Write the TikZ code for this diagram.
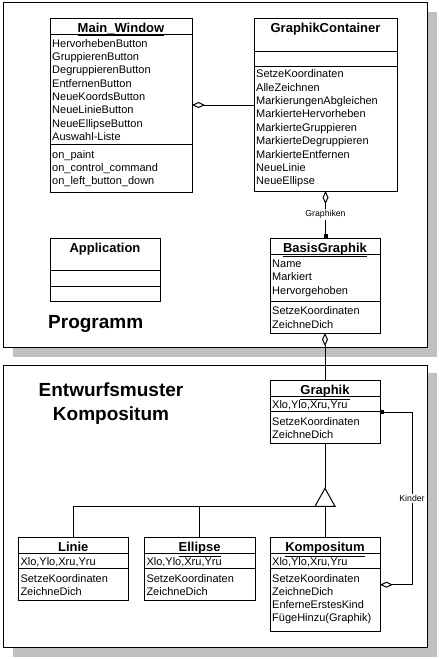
\documentclass[tikz,border=0pt]{standalone}
\usepackage{fontspec}
\setmainfont{Liberation Sans}
\usepackage{xcolor}
\definecolor{schatten}{RGB}{192,192,192}
\usetikzlibrary{arrows,arrows.meta,shapes,calc,positioning}
\tikzstyle{rahmen}=[draw, fill=white, line width=1pt]
\tikzstyle{klasse}=[draw, line width=1pt, anchor=north west,
                    inner sep=0pt, outer sep=0pt]
\tikzstyle{titel}=[anchor=base, inner sep=0pt,
                   font=\fontsize{13}{14}\selectfont\bfseries]
\tikzstyle{zeile}=[anchor=base west, inner sep=0pt,
                   font=\fontsize{11}{13}\selectfont]
\tikzstyle{marke}=[fill=white, inner sep=1pt,
                   font=\fontsize{8.7}{10}\selectfont]
\tikzstyle{gross}=[anchor=base, inner sep=0pt,
                   font=\fontsize{19}{22}\selectfont\bfseries]
\tikzstyle{edge}=[line width=1pt]
\tikzset{raute/.tip={Diamond[open, length=13pt, width=6pt]},
         punkt/.tip={Square[length=4pt, width=4pt]}}

\begin{document}
\begin{tikzpicture}[x=1pt, y=-1pt]

    \useasboundingbox (0,0) rectangle (439,659);

    % Rahmen mit Schatten
    \fill[schatten] (13,12) rectangle (437,357);
    \draw[rahmen] (3,2) rectangle (427,347);
    \fill[schatten] (13,373) rectangle (437,657);
    \draw[rahmen] (3,365) rectangle (427,647);

    \node (prog) [gross, anchor=base west] at (48,328) {Programm};
    \node (entw) [gross] at (111,396) {Entwurfsmuster};
    \node (komp) [gross] at (111,420) {Kompositum};

    % Programm
    \node (mw) [klasse, minimum width=142pt, minimum height=174pt] at (50,18) {};
    \node (mwT) [titel] at ($(mw.north)+(0,14.5)$) {\underline{Main\_Window}};
    \foreach \y in {34,144}
        \draw[edge] (mw.west |- 0,\y) -- (mw.east |- 0,\y);
    \foreach \t [count=\i from 0] in {HervorhebenButton,
        GruppierenButton,
        DegruppierenButton,
        EntfernenButton,
        NeueKoordsButton,
        NeueLinieButton,
        NeueEllipseButton,
        Auswahl-Liste}
        \node (mwA\i) [zeile] at (52,{47.3+13.3*\i}) {\t};
    \foreach \t [count=\i from 0] in {on\_paint,
        on\_control\_command,
        on\_left\_button\_down}
        \node (mwM\i) [zeile] at (52,{158+13*\i}) {\t};

    \node (gc) [klasse, minimum width=143pt, minimum height=173pt] at (254,18) {};
    \node (gcT) [titel] at ($(gc.north)+(0,14.5)$) {GraphikContainer};
    \foreach \y in {51,66}
        \draw[edge] (gc.west |- 0,\y) -- (gc.east |- 0,\y);
    \foreach \t [count=\i from 0] in {SetzeKoordinaten,
        AlleZeichnen,
        MarkierungenAbgleichen,
        MarkierteHervorheben,
        MarkierteGruppieren,
        MarkierteDegruppieren,
        MarkierteEntfernen,
        NeueLinie,
        NeueEllipse}
        \node (gcM\i) [zeile] at (256,{77.6+13.4*\i}) {\t};

    \node (ap) [klasse, minimum width=110pt, minimum height=63pt] at (50,238) {};
    \node (apT) [titel] at ($(ap.north)+(0,14.5)$) {Application};
    \foreach \y in {270,286}
        \draw[edge] (ap.west |- 0,\y) -- (ap.east |- 0,\y);

    \node (bg) [klasse, minimum width=110pt, minimum height=95pt] at (270,238) {};
    \node (bgT) [titel] at ($(bg.north)+(0,14)$) {\underline{BasisGraphik}};
    \foreach \y in {254.3,301.7}
        \draw[edge] (bg.west |- 0,\y) -- (bg.east |- 0,\y);
    \foreach \t [count=\i from 0] in {Name,Markiert,Hervorgehoben}
        \node (bgA\i) [zeile] at (272,{267+13.5*\i}) {\t};
    \foreach \t [count=\i from 0] in {SetzeKoordinaten,ZeichneDich}
        \node (bgM\i) [zeile] at (272,{314.5+14*\i}) {\t};

    % Kompositum
    \node (gr) [klasse, minimum width=110pt, minimum height=62.6pt] at (270,380.7) {};
    \node (grT) [titel] at ($(gr.north)+(0,14)$) {\underline{Graphik}};
    \foreach \y in {396.7,411}
        \draw[edge] (gr.west |- 0,\y) -- (gr.east |- 0,\y);
    \node (grA0) [zeile] at (272,408.3) {Xlo,Ylo,Xru,Yru};
    \foreach \t [count=\i from 0] in {SetzeKoordinaten,ZeichneDich}
        \node (grM\i) [zeile] at (272,{425+13*\i}) {\t};

    \node (li) [klasse, minimum width=110pt, minimum height=62.3pt] at (18.3,537.7) {};
    \node (el) [klasse, minimum width=110.7pt, minimum height=62.3pt] at (144.3,537.7) {};
    \node (ko) [klasse, minimum width=110pt, minimum height=94pt] at (270,537.7) {};
    \foreach \k/\n in {li/Linie,el/Ellipse,ko/Kompositum} {
        \node (\k T) [titel] at ($(\k.north)+(0,14)$) {\underline{\n}};
        \foreach \y in {553.3,568.3}
            \draw[edge] (\k.west |- 0,\y) -- (\k.east |- 0,\y);
        \node (\k A0) [zeile] at ($(\k.north west)+(2,28)$) {Xlo,Ylo,Xru,Yru};
    }
    \foreach \k in {li,el}
        \foreach \t [count=\i from 0] in {SetzeKoordinaten,ZeichneDich}
            \node (\k M\i) [zeile] at ($(\k.north west)+(2,{44.8+12.7*\i})$) {\t};
    \foreach \t [count=\i from 0] in {SetzeKoordinaten,
        ZeichneDich,
        EnferneErstesKind,
        FügeHinzu(Graphik)}
        \node (koM\i) [zeile] at ($(ko.north west)+(2,{44.8+13*\i})$) {\t};

    % Verbindungen
    \draw[edge, {raute}-] (mw.east) -- (mw.east -| gc.west);
    \draw[edge, {raute}-{punkt}] (gc.south) -- (gc.south |- bg.north)
        node[marke, midway] {Graphiken};
    \draw[edge, {raute}-] (bg.south) -- (bg.south |- gr.north);

    \coordinate (knick) at ($(gr.east)+(32,0)$);
    \draw[edge, {punkt}-{raute}] (gr.east) -- (knick) -- (knick |- ko.east)
        node[marke, midway] {Kinder} -- (ko.east);

    \coordinate (spitze) at ($(gr.south)+(0,45)$);
    \coordinate (basis) at ($(spitze)+(0,18)$);
    \draw[edge] (gr.south) -- (spitze);
    \draw[edge] (li.north) |- (basis);
    \draw[edge] (el.north) -- (el.north |- basis);
    \draw[edge] (ko.north) -- (basis);
    \draw[edge, fill=white] (spitze) -- ++(-10,18) -- ++(20,0) -- cycle;

\end{tikzpicture}
\end{document}
